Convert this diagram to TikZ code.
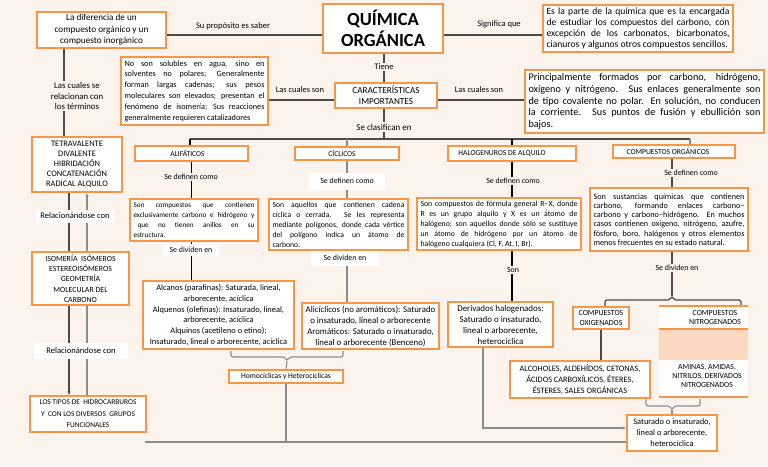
\documentclass[tikz,border=0pt]{standalone}
\usepackage{fontspec}
\setmainfont{Carlito}
\usetikzlibrary{arrows.meta,backgrounds}
\definecolor{bg}{HTML}{FCF3ED}
\definecolor{boxor}{HTML}{F79646}
\definecolor{lng}{HTML}{8C8C8C}
\definecolor{lnd}{HTML}{4A4A4A}
\definecolor{peach}{HTML}{FAD9C0}
\newcommand\myfs[2]{\fontsize{#1}{#2}\selectfont}
\begin{document}
\begin{tikzpicture}[x=1pt,y=-1pt,
 box/.style={draw=boxor, line width=1.4pt, fill=white, inner sep=0pt, align=center},
 jbox/.style={box, align=justify},
 lbl/.style={fill=bg, inner sep=1.5pt, align=center, font=\myfs{8.5}{10}},
 wlbl/.style={fill=white, inner sep=1pt, align=center, font=\myfs{7.9}{10}},
 thinln/.style={draw=lng, line width=1.1pt},
 darkln/.style={draw=lnd, line width=1.2pt},
 thickln/.style={draw=black, line width=1.9pt},
 tip/.style={-{Latex[length=4pt,width=3.5pt]}},
]
\begin{scope}[on background layer]
\fill[bg] (0,0) rectangle (768,466);
\end{scope}
\useasboundingbox (0,0) rectangle (768,466);

% ---------- boxes ----------
\node[box, minimum width=120pt, minimum height=49pt, font=\myfs{18.5}{21.5}\bfseries] (title) at (383,28.5) {QUÍMICA\\ORGÁNICA};
\node[box, minimum width=129pt, minimum height=36pt, font=\myfs{9.2}{11.5}] (diff) at (101.5,30) {La diferencia de un\\compuesto orgánico y un\\compuesto inorgánico};
\node[jbox, minimum width=190pt, minimum height=47pt, text width=183pt, font=\myfs{9.6}{10.8}] (desc) at (638,28.5) {\parfillskip=0pt Es la parte de la química que es la encargada\linebreak de estudiar los compuestos del carbono, con\linebreak excepción de los carbonatos, bicarbonatos,\linebreak cianuros y algunos otros compuestos sencillos.};
\node[box, minimum width=102pt, minimum height=25pt, font=\myfs{9.2}{11}] (char) at (386,95.5) {CARACTERÍSTICAS\\IMPORTANTES};
\node[jbox, minimum width=147pt, minimum height=68pt, text width=140pt, font=\myfs{8.2}{10.8}] (propsL) at (194.5,91) {No son solubles en agua, sino en\linebreak solventes no polares; Generalmente\linebreak forman largas cadenas; sus pesos\linebreak moleculares son elevados; presentan el\linebreak fenómeno de isomería; Sus reacciones\linebreak generalmente requieren catalizadores};
\node[jbox, minimum width=239pt, minimum height=63pt, text width=232pt, font=\myfs{10.2}{11.6}] (propsR) at (644.5,101.5) {Principalmente formados por carbono, hidrógeno,\linebreak oxígeno y nitrógeno. Sus enlaces generalmente son\linebreak de tipo covalente no polar. En solución, no conducen\linebreak la corriente. Sus puntos de fusión y ebullición son\linebreak bajos.};

\node[box, minimum width=90pt, minimum height=55pt, font=\myfs{8.4}{10}] (tetra) at (77,164.5) {TETRAVALENTE\\DIVALENTE\\HIBRIDACIÓN\\CONCATENACIÓN\\RADICAL ALQUILO};
\node[box, minimum width=97pt, minimum height=53pt, font=\myfs{7.9}{10.3}] (isom) at (80.5,278.5) {ISOMERÍA\ \ ISÓMEROS\\ESTEREOISÓMEROS\\GEOMETRÍA\\MOLECULAR DEL\\CARBONO};
\node[box, minimum width=116pt, minimum height=36pt, font=\myfs{7.4}{11.5}] (lostipos) at (88,414) {LOS TIPOS DE\ \ HIDROCARBUROS\\Y\ \ CON LOS DIVERSOS\ \ GRUPOS\\FUNCIONALES};

\node[box, minimum width=113pt, minimum height=15pt, font=\myfs{7.5}{8}] (alif) at (191.5,153.5) {ALIFÁTICOS\hspace*{8pt}};
\node[box, minimum width=104pt, minimum height=13pt, font=\myfs{7.5}{8}] (cicl) at (347,153.5) {CÍCLICOS\hspace*{10pt}};
\node[box, minimum width=128pt, minimum height=15pt, font=\myfs{7.6}{8}] (halo) at (512,153.5) {HALOGENUROS DE ALQUILO\hspace*{20pt}};
\node[box, minimum width=122pt, minimum height=13pt, font=\myfs{7.6}{8}] (corg) at (674,151.5) {COMPUESTOS ORGÁNICOS\hspace*{12pt}};

\node[jbox, minimum width=128pt, minimum height=42pt, text width=121pt, font=\myfs{7.2}{10.2}] (alifdef) at (194,220) {Son compuestos que contienen\linebreak exclusivamente carbono e hidrógeno y\linebreak \hspace*{4pt}que no tienen anillos en su\linebreak estructura.};
\node[jbox, minimum width=139pt, minimum height=51pt, text width=132pt, font=\myfs{7.7}{10}] (cicldef) at (338.5,224.5) {Son aquellos que contienen cadena\linebreak cíclica o cerrada. Se les representa\linebreak mediante polígonos, donde cada vértice\linebreak del polígono indica un átomo de\linebreak carbono.};
\node[jbox, minimum width=164pt, minimum height=52pt, text width=157pt, font=\myfs{7.8}{10}] (halodef) at (499,224) {Son compuestos de fórmula general R–X, donde\linebreak R es un grupo alquilo y X es un átomo de\linebreak halógeno; son aquellos donde sólo se sustituye\linebreak un átomo de hidrógeno por un átomo de\linebreak halógeno cualquiera (Cl, F, At, I, Br).};
\node[jbox, minimum width=158pt, minimum height=63pt, text width=151pt, font=\myfs{8.2}{9.3}] (corgdef) at (669,219.5) {Son sustancias químicas que contienen\linebreak carbono, formando enlaces carbono–\linebreak carbono y carbono–hidrógeno. En muchos\linebreak casos contienen oxígeno, nitrógeno, azufre,\linebreak fósforo, boro, halógenos y otros elementos\linebreak menos frecuentes en su estado natural.};

\node[box, minimum width=151pt, minimum height=68pt, font=\myfs{8.4}{10.8}] (alcanos) at (218.5,315) {Alcanos (parafinas): Saturada, lineal,\\arborecente, acíclica\\Alquenos (olefinas): Insaturado, lineal,\\arborecente, acíclica\\Alquinos (acetileno o etino):\\Insaturado, lineal o arborecente, acíclica};
\node[box, minimum width=137pt, minimum height=46pt, font=\myfs{8.8}{11}] (alicic) at (370.5,326) {Alicíclicos (no aromáticos): Saturado\\o insaturado, lineal o arborecente\\Aromáticos: Saturado o insaturado,\\lineal o arborecente (Benceno)};
\node[box, minimum width=114pt, minimum height=13pt, font=\myfs{7.6}{9}] (homo) at (286,376.5) {Homocíclicas y Heterocíclicas};
\node[box, minimum width=105pt, minimum height=45pt, font=\myfs{8.9}{11}] (deriv) at (500.5,324.5) {Derivados halogenados:\\Saturado o insaturado,\\lineal o arborecente,\\heterocíclica};
\node[box, minimum width=56pt, minimum height=22pt, font=\myfs{7.8}{9.3}] (oxig) at (601,318) {COMPUESTOS\\OXIGENADOS};
\node[box, minimum width=140pt, minimum height=37pt, font=\myfs{8.3}{11.3}] (alcoh) at (580,379.5) {ALCOHOLES, ALDEHÍDOS, CETONAS,\\ÁCIDOS CARBOXÍLICOS, ÉTERES,\\ÉSTERES, SALES ORGÁNICAS};
\node[box, minimum width=90pt, minimum height=36pt, font=\myfs{8.4}{11}] (satur) at (672,433) {Saturado o insaturado,\\lineal o arborecente,\\heterocíclica};

% nitrogenados block (open box with bands)
\fill[white] (659,306) rectangle (748,397);
\fill[peach] (659,329) rectangle (748,360);
\draw[boxor, line width=1.4pt] (659,306) -- (748,306) (659,329) -- (748,329) (659,397) -- (748,397);
\node[inner sep=0pt, align=center, font=\myfs{7.8}{9}] (nitroT) at (715,317.5) {COMPUESTOS\\NITROGENADOS};
\node[inner sep=0pt, align=center, font=\myfs{7.8}{9.2}] (nitroL) at (707,376) {AMINAS, AMIDAS,\\NITRILOS, DERIVADOS\\NITROGENADOS};

% ---------- helper coordinates ----------
\coordinate (r35) at (0,35);
\coordinate (r100) at (0,100);
\coordinate (c384) at (384,0);
\coordinate (bL) at (190,139);
\coordinate (bR) at (690,139);
\coordinate (bC) at (384,139);
\coordinate (x64) at (64,0);
\coordinate (x69) at (69,0);
\coordinate (x87) at (87,0);
\coordinate (x672) at (672,0);
\coordinate (x483) at (483,0);
\coordinate (r428) at (0,428);
\coordinate (r442) at (0,442);
\coordinate (barB) at (145,442);
\coordinate (brA) at (287,361);
\coordinate (brT) at (672,296);
\coordinate (brS) at (672,410);

% ---------- connectors ----------
\begin{scope}[on background layer]
\draw[darkln] (diff.east |- r35) -- (title.west |- r35);
\draw[darkln] (title.east |- r35) -- (desc.west |- r35);
\draw[darkln] (title.south -| c384) -- (char.north -| c384);
\draw[darkln] (char.west |- r100) -- (propsL.east |- r100);
\draw[darkln] (char.east |- r100) -- (propsR.west |- r100);
\draw[darkln] (char.south -| c384) -- (bC);
\draw[darkln] (bL) -- (bR);
\draw[thickln] (bL) -- (bL |- alif.north);
\draw[thinln] (cicl.north |- bL) -- (cicl.north);
\draw[thickln] (halo.north |- bL) -- (halo.north);
\draw[thinln] (bR) -- (bR |- corg.north);
% left column
\draw[darkln] (diff.south -| x64) -- (tetra.north -| x64);
\draw[thinln, tip] (lostipos.north -| x87) -- (tetra.south -| x87);
\draw[darkln] (tetra.south -| x69) -- (isom.north -| x69);
\draw[darkln, tip] (isom.south -| x69) -- (lostipos.north -| x69);
% aliphatic
\draw[thickln] (alif.south) -- (alif.south |- alifdef.north);
\draw[thickln] (alifdef.south -| alif.south) -- (alcanos.north -| alif.south);
% cyclic
\draw[thinln] (cicl.south) -- (cicl.south |- cicldef.north);
\draw[thinln] (cicldef.south -| cicl.south) -- (alicic.north -| cicl.south);
\draw[thinln, rounded corners=2pt] (231,351) -- (231,357) -- (285,357) -- (brA) -- (289,357) -- (343,357) -- (343,351);
\draw[thinln] (brA) -- (homo.north);
\draw[thinln] (homo.south) -- (homo.south |- r442);
\draw[thinln] (barB) -- (satur.west |- r442);
% halogen
\draw[thickln] (halo.south) -- (halo.south |- halodef.north);
\draw[thickln] (halodef.south -| halo.south) -- (deriv.north -| halo.south);
\draw[thinln, tip] (deriv.south -| x483) -- (x483 |- r428) -- (satur.west |- r428);
% organic compounds
\draw[darkln] (corg.south -| x672) -- (corgdef.north -| x672);
\draw[darkln] (corgdef.south -| x672) -- (brT);
\draw[darkln, rounded corners=2pt] (605,306) -- (605,300) -- (670,300) -- (brT) -- (674,300) -- (741,300) -- (741,306);
\draw[darkln] (oxig.south) -- (oxig.south |- alcoh.north);
\draw[thinln, rounded corners=2pt] (646,399) -- (646,406) -- (670,406) -- (brS) -- (674,406) -- (700,406) -- (700,399);
\draw[thinln] (brS) -- (satur.north);
\end{scope}

% ---------- labels ----------
\node[lbl] (lpurp) at (233,26) {Su propósito es saber};
\node[lbl] (lsig) at (499,24) {Significa que};
\node[lbl] (ltiene) at (384,67) {Tiene};
\node[lbl, font=\myfs{8.4}{9}] (lcs1) at (300,90) {Las cuales son};
\node[lbl, font=\myfs{8.4}{9}] (lcs2) at (479,90) {Las cuales son};
\node[lbl, font=\myfs{9}{10}] (lclas) at (384,127) {Se clasifican en};
\node[lbl, font=\myfs{8.8}{10.5}] (lrel) at (77,96) {Las cuales se\\relacionan con\\los términos};
\node[wlbl, minimum width=78pt, minimum height=13pt, font=\myfs{8.6}{10}] (lrc1) at (75,216) {Relacionándose con};
\node[wlbl, minimum width=94pt, minimum height=16pt, font=\myfs{8.6}{10}] (lrc2) at (81,351) {Relacionándose con};
\node[lbl, font=\myfs{7.9}{10}] (ldef1) at (191,177) {Se definen como};
\node[wlbl, minimum width=56pt, minimum height=12pt] (ldiv1) at (191,250) {Se dividen en};
\node[wlbl, minimum width=76pt, minimum height=17pt] (ldef2) at (347,181) {Se definen como};
\node[wlbl, minimum width=68pt, minimum height=15pt] (ldiv2) at (345,258) {Se dividen en};
\node[lbl, font=\myfs{7.9}{10}] (ldef3) at (513,181) {Se definen como};
\node[lbl, font=\myfs{7.9}{10}] (lson) at (513,270) {Son};
\node[lbl, font=\myfs{7.9}{10}] (ldef4) at (691,173) {Se definen como};
\node[lbl, font=\myfs{7.9}{10}] (ldiv4) at (677,268) {Se dividen en};
\end{tikzpicture}
\end{document}
